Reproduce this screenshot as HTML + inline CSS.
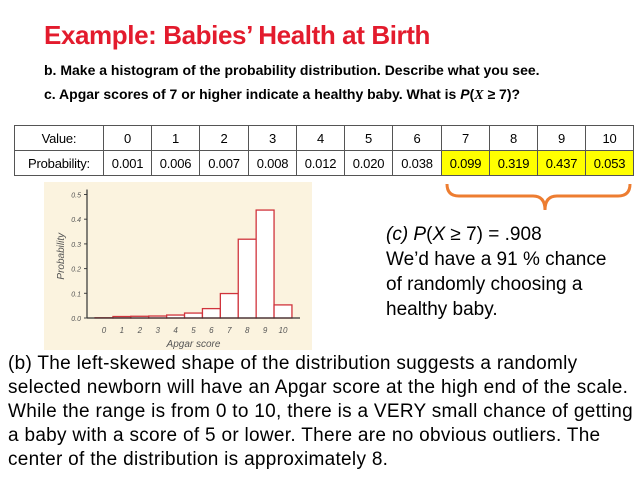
<!DOCTYPE html>
<html><head><meta charset="utf-8"><style>
body{margin:0;width:638px;height:478px;background:#fff;position:relative;overflow:hidden;font-family:"Liberation Sans",sans-serif}
.t{position:absolute;white-space:nowrap}
table{position:absolute;left:14px;top:125px;border-collapse:collapse;font-size:13px}
td{border:1px solid #555;height:24px;text-align:center;padding:0;letter-spacing:-0.2px}
.y{background:#ffff00}
</style></head><body>
<div class="t" style="left:44px;top:20px;font-size:26px;font-weight:bold;color:#e31b2d;letter-spacing:-0.4px">Example: Babies’ Health at Birth</div>
<div class="t" style="left:44px;top:62px;font-size:14px;font-weight:bold;letter-spacing:0px">b. Make a histogram of the probability distribution. Describe what you see.</div>
<div class="t" style="left:44px;top:86px;font-size:14px;font-weight:bold;letter-spacing:0px">c. Apgar scores of 7 or higher indicate a healthy baby. What is <i>P</i>(<i style="font-family:'Liberation Serif',serif">X</i> ≥ 7)?</div>
<table>
<tr><td style="width:88px">Value:</td><td style="width:47px">0</td><td style="width:47px">1</td><td style="width:48px">2</td><td style="width:47px">3</td><td style="width:47px">4</td><td style="width:47px">5</td><td style="width:48px">6</td><td style="width:47px">7</td><td style="width:47px">8</td><td style="width:47px">9</td><td style="width:47px">10</td></tr>
<tr><td>Probability:</td><td>0.001</td><td>0.006</td><td>0.007</td><td>0.008</td><td>0.012</td><td>0.020</td><td>0.038</td><td class="y">0.099</td><td class="y">0.319</td><td class="y">0.437</td><td class="y">0.053</td></tr>
</table>
<svg style="position:absolute;left:0;top:0" width="638" height="478"><path d="M447 184 Q447 196 459 196 L533 196 Q545 196 545 210 Q545 196 557 196 L618 196 Q630 196 630 184" fill="none" stroke="#ed7d31" stroke-width="3"/></svg>
<svg id="chart" style="position:absolute;left:44px;top:182px" width="268" height="168"></svg>
<div class="t" style="left:386px;top:222px;font-size:19px;line-height:25px;letter-spacing:0px"><i>(c) P</i>(<i>X</i> ≥ 7) = .908<br>We’d have a 91 % chance<br>of randomly choosing a<br>healthy baby.</div>
<div class="t" style="left:8px;top:352px;font-size:19px;line-height:24px;letter-spacing:0.3px">(b) The left-skewed shape of the distribution suggests a randomly<br>selected newborn will have an Apgar score at the high end of the scale.<br>While the range is from 0 to 10, there is a VERY small chance of getting<br>a baby with a score of 5 or lower. There are no obvious outliers. The<br>center of the distribution is approximately 8.</div>
<script>
const scores=[0,1,2,3,4,5,6,7,8,9,10];
const probs=[0.001,0.006,0.007,0.008,0.012,0.020,0.038,0.099,0.319,0.437,0.053];
const yTicks=[0,0.1,0.2,0.3,0.4,0.5];
const ns="http://www.w3.org/2000/svg";
const svg=document.getElementById('chart');
const ox=43,oy=136;
const x=v=>60+v*17.9;
const y=v=>oy-v*247;
function mk(t,a){const e=document.createElementNS(ns,t);for(const k in a)e.setAttribute(k,a[k]);svg.appendChild(e);return e;}
const bg=mk('rect',{x:0,y:0,width:268,height:168,fill:'#fbf3df'});

scores.forEach((s,i)=>{const r=mk('rect',{x:x(s)-8.95,y:y(probs[i]),width:17.9,height:oy-y(probs[i]),fill:'#fff',stroke:'#d0343c','stroke-width':1.3});


const t=mk('text',{x:x(s),y:oy+15,'font-size':8,'font-style':'italic','text-anchor':'middle',fill:'#555'});t.textContent=s;

});
yTicks.forEach(v=>{mk('line',{x1:ox-3,x2:ox,y1:y(v),y2:y(v),stroke:'#444'});
const t=mk('text',{x:ox-6,y:y(v)+3,'font-size':7,'font-style':'italic','text-anchor':'end',fill:'#555'});t.textContent=v.toFixed(1);

});
mk('line',{x1:ox,x2:ox,y1:y(0.52),y2:oy,stroke:'#333','stroke-width':1.2});
mk('line',{x1:ox,x2:256,y1:oy,y2:oy,stroke:'#333','stroke-width':1.2});
const xt=mk('text',{x:x(5),y:oy+29,'font-size':10,'font-style':'italic','text-anchor':'middle',fill:'#555'});xt.textContent='Apgar score';

const yt=mk('text',{x:0,y:0,'font-size':10,'font-style':'italic','text-anchor':'middle',fill:'#555',transform:'translate(20,'+y(0.25)+') rotate(-90)'});yt.textContent='Probability';

</script>
</body></html>
